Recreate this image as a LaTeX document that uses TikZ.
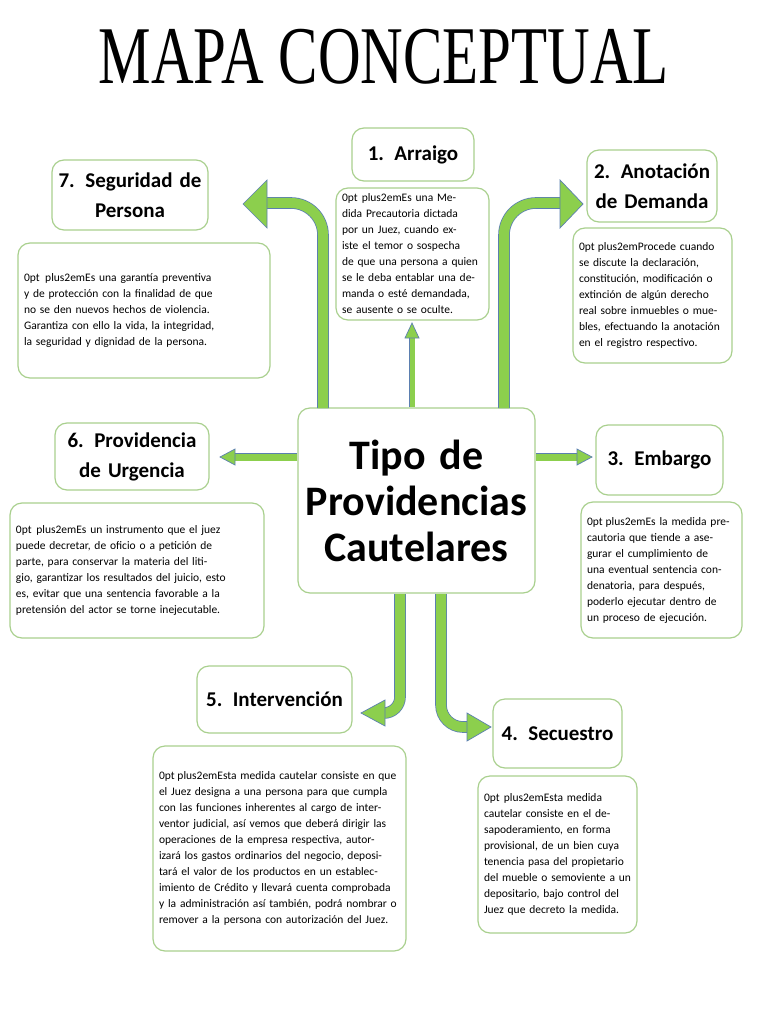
\documentclass[tikz,border=0pt]{standalone}
\usepackage{fontspec}
\setmainfont{Carlito}
\newfontfamily\titlefont{Liberation Serif}
\definecolor{grn}{HTML}{8CCF4D}
\definecolor{bord}{HTML}{A9D08E}
\definecolor{edge}{HTML}{5B7FB0}
\begin{document}
\begin{tikzpicture}[x=1pt,y=-1pt,
 box/.style={draw=bord,line width=1.2pt,rounded corners=12pt,fill=white,inner sep=0pt},
 hd/.style={font=\bfseries\fontsize{21}{30}\selectfont,align=center},
 bd/.style={font=\fontsize{11.5}{16}\selectfont\hyphenpenalty=10000\relax,align=center},
 big/.style={font=\bfseries\fontsize{42}{46}\selectfont,align=center},
 shaftO/.style={draw=edge,line width=#1+1.6pt},
 shaftI/.style={draw=grn,line width=#1},
 tip/.style={fill=grn,draw=edge,line width=0.7pt,line join=miter}]
\useasboundingbox (0,0) rectangle (768,1024);
\node[font=\titlefont\fontsize{82}{82}\selectfont,xscale=0.72] (title) at (384,57) {MAPA CONCEPTUAL};
% boxes
\newcommand{\bx}[7]{\node[box,#7,minimum width=#4-#2,minimum height=#5-#3,text width=#4-#2-12] (#1) at ({(#2+#4)/2},{(#3+#5)/2}) {#6};}
\bx{c}{298}{408}{535}{593}{Tipo de\\Providencias\\Cautelares}{big}
\bx{t1}{352}{128}{474}{181}{1. Arraigo}{hd}
\bx{d1}{336}{188}{489}{320}{Es una Medida Precautoria dictada por un Juez, cuando existe el temor o sospecha de que una persona a quien se le deba entablar una demanda o esté demandada, se ausente o se oculte.}{bd}
\bx{t2}{587}{150}{717}{222}{2. Anotación\\de Demanda}{hd}
\bx{d2}{573}{228}{732}{363}{Procede cuando se discute la declaración, constitución, modificación o extinción de algún derecho real sobre inmuebles o muebles, efectuando la anotación en el registro respectivo.}{bd}
\bx{t7}{52}{160}{208}{230}{7. Seguridad de\\Persona}{hd}
\bx{d7}{18}{243}{270}{378}{Es una garantía preventiva y de protección con la finalidad de que no se den nuevos hechos de violencia.\\Garantiza con ello la vida, la integridad, la seguridad y dignidad de la persona.}{bd}
\bx{t6}{55}{423}{209}{490}{6. Providencia\\de Urgencia}{hd}
\bx{d6}{10}{503}{264}{638}{Es un instrumento que el juez puede decretar, de oficio o a petición de parte, para conservar la materia del litigio, garantizar los resultados del juicio, esto es, evitar que una sentencia favorable a la pretensión del actor se torne inejecutable.}{bd}
\bx{t3}{596}{425}{723}{495}{3. Embargo}{hd}
\bx{d3}{581}{502}{742}{638}{Es la medida precautoria que tiende a asegurar el cumplimiento de una eventual sentencia condenatoria, para después, poderlo ejecutar dentro de un proceso de ejecución.}{bd}
\bx{t5}{197}{666}{352}{733}{5. Intervención}{hd}
\bx{d5}{153}{746}{406}{951}{Esta medida cautelar consiste en que el Juez designa a una persona para que cumpla con las funciones inherentes al cargo de interventor judicial, así vemos que deberá dirigir las operaciones de la empresa respectiva, autorizará los gastos ordinarios del negocio, depositará el valor de los productos en un establecimiento de Crédito y llevará cuenta comprobada y la administración así también, podrá nombrar o remover a la persona con autorización del Juez.}{bd}
\bx{t4}{493}{699}{622}{768}{4. Secuestro}{hd}
\bx{d4}{478}{776}{637}{933}{Esta medida cautelar consiste en el desapoderamiento, en forma provisional, de un bien cuya tenencia pasa del propietario del mueble o semoviente a un depositario, bajo control del Juez que decreto la medida.}{bd}
% arrows
\coordinate (a7s) at (323,408); \coordinate (a7e) at (266,203);
\draw[shaftO=10pt] (a7s) -- (323,235) arc (0:-90:32) -- (a7e);
\draw[shaftI=10pt] (a7s) -- (323,235) arc (0:-90:32) -- (a7e);
\draw[tip] (267,180) -- (243,204) -- (267,228) -- cycle;
\coordinate (a2s) at (504,408); \coordinate (a2e) at (561,203);
\draw[shaftO=10pt] (a2s) -- (504,235) arc (180:270:32) -- (a2e);
\draw[shaftI=10pt] (a2s) -- (504,235) arc (180:270:32) -- (a2e);
\draw[tip] (560,180) -- (583,204) -- (560,228) -- cycle;
\coordinate (a1s) at (412,407); \coordinate (a1e) at (412,337);
\draw[shaftO=5pt] (a1s) -- (a1e); \draw[shaftI=5pt] (a1s) -- (a1e);
\draw[tip] (405,338) -- (412,323) -- (419,338) -- cycle;
\coordinate (a6s) at (297,457); \coordinate (a6e) at (234,457);
\draw[shaftO=7pt] (a6s) -- (a6e); \draw[shaftI=7pt] (a6s) -- (a6e);
\draw[tip] (235,449) -- (220,457) -- (235,465) -- cycle;
\coordinate (a3s) at (536,457); \coordinate (a3e) at (578,457);
\draw[shaftO=7pt] (a3s) -- (a3e); \draw[shaftI=7pt] (a3s) -- (a3e);
\draw[tip] (577,449) -- (592,457) -- (577,465) -- cycle;
\coordinate (a5s) at (400,594); \coordinate (a5e) at (384,713);
\draw[shaftO=10pt] (a5s) -- (400,697) arc (0:90:16) -- (a5e);
\draw[shaftI=10pt] (a5s) -- (400,697) arc (0:90:16) -- (a5e);
\draw[tip] (385,700) -- (361,713) -- (385,726) -- cycle;
\coordinate (a4s) at (441,594); \coordinate (a4e) at (468,727);
\draw[shaftO=10pt] (a4s) -- (441,705) arc (180:90:22) -- (a4e);
\draw[shaftI=10pt] (a4s) -- (441,705) arc (180:90:22) -- (a4e);
\draw[tip] (467,713) -- (491,727) -- (467,741) -- cycle;
\end{tikzpicture}
\end{document}
